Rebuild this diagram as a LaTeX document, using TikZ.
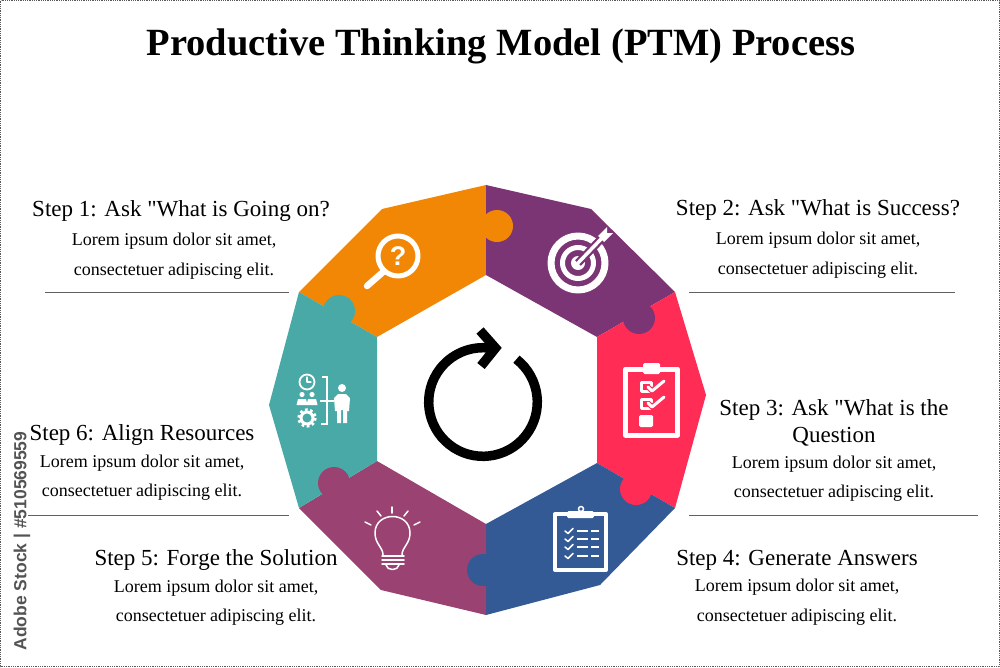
\documentclass[tikz,border=0pt]{standalone}
\usepackage{fontspec}
\setmainfont{Liberation Serif}[Ligatures=TeXOff]
\setsansfont{Liberation Sans}
\usetikzlibrary{positioning}
\definecolor{ptmorange}{HTML}{F28705}
\definecolor{ptmplum}{HTML}{7C3574}
\definecolor{ptmred}{HTML}{FF2C55}
\definecolor{ptmblue}{HTML}{345A96}
\definecolor{ptmwine}{HTML}{9A4272}
\definecolor{ptmteal}{HTML}{49A9A6}
\tikzset{
stephead/.style={
  font=\fontsize{23}{27}\selectfont,
  text centered,
  inner sep=0pt},
stepbody/.style={
  font=\fontsize{18}{29.5}\selectfont,
  align=center,
  inner sep=0pt},
rule/.style={draw, gray!75!black, line width=0.8pt},
iconline/.style={draw=white, line width=#1, line cap=round, line join=round},
iconline/.default=1.5pt
}
\begin{document}
\begin{tikzpicture}[x=1pt,y=-1pt]
    \useasboundingbox (0,0) rectangle (1000,667);
    \draw [densely dotted, gray!70!black, line width=0.8pt] (0.5,0.5) rectangle (999.5,666.5);
    \node [font=\fontsize{38.5}{44}\selectfont\bfseries, inner sep=0pt] (title) at (501,46) {Productive Thinking Model (PTM) Process};

    % puzzle ring
    \fill [ptmorange] (486,185) -- (382,209) -- (299,292) -- (377,337) -- (486,275) -- cycle;
    \fill [ptmplum] (486,185) -- (591,209) -- (675,292) -- (597,337) -- (486,275) -- cycle;
    \fill [ptmred] (675,292) -- (706,395) -- (675,508) -- (597,463) -- (597,337) -- cycle;
    \fill [ptmblue] (675,508) -- (600,585) -- (486,615) -- (486,524) -- (597,463) -- cycle;
    \fill [ptmwine] (486,615) -- (381,590) -- (299,508) -- (377,461) -- (486,524) -- cycle;
    \fill [ptmteal] (299,508) -- (269,405) -- (299,292) -- (377,337) -- (377,461) -- cycle;
    \fill [ptmorange] (497,226) circle (16);
    \fill [ptmplum] (639,318) circle (16);
    \fill [ptmred] (636,489) circle (16);
    \fill [ptmblue] (483,570) circle (16);
    \fill [ptmwine] (334,483) circle (16);
    \fill [ptmteal] (339,311) circle (16);

    % centre arrow
    \draw [line width=9.5pt] (483,402) ++(-52:54.3) arc (-52:283:54.3);
    \draw [line width=9.5pt, line join=miter] (480,330.5) -- (495.5,348) -- (481,366);

    % magnifier
    \draw [iconline=5pt] (398,256) circle (20);
    \draw [iconline=6.5pt] (383,272) -- (367,286);
    \node [white, font=\fontsize{27}{27}\selectfont\sffamily\bfseries, inner sep=0pt] (quest) at (398,256) {?};

    % target
    \draw [iconline=7pt] (578,263) circle (27);
    \draw [iconline=5pt] (578,263) circle (15.5);
    \fill [white] (578,263) circle (7);
    \draw [ptmplum, line width=8pt] (578,263) -- (606,234);
    \draw [iconline=3.5pt] (578,263) -- (603,237);
    \fill [white] (598,236) -- (607,227) -- (607,233) -- (613,233) -- (604,242) -- cycle;

    % checklist
    \draw [iconline=5pt] (625.5,369) rectangle (677.5,435);
    \fill [white, rounded corners=1.5pt] (643,363) rectangle (660,374);
    \draw [iconline=3pt] (641,382) rectangle (651,391);
    \draw [iconline=3pt] (641,399) rectangle (651,408);
    \fill [white, rounded corners=1.5pt] (639,415) rectangle (653,427);
    \draw [ptmred, line width=5pt] (648,387) -- (652,391) -- (662,381);
    \draw [ptmred, line width=5pt] (648,403) -- (652,407) -- (662,397);
    \draw [iconline=3pt] (648,387) -- (652,391) -- (664,381);
    \draw [iconline=3pt] (648,403) -- (652,407) -- (664,397);

    % clipboard
    \draw [iconline=4pt] (555,514) rectangle (606,570);
    \fill [white, rounded corners=1.5pt] (567,511) rectangle (594,518);
    \draw [draw=white, fill=ptmblue, line width=1.5pt] (581,509) circle (2.5);
    \foreach \rowy/\rowdash in {531/solid, 539/dashed, 547/solid, 556/dashed} {
      \draw [iconline=1.5pt] (565,\rowy) -- (568,\rowy+2.5) -- (573,\rowy-2.5);
      \draw [white, line width=1.5pt, \rowdash, dash pattern=on 11pt off 3pt] (577,\rowy) -- (599,\rowy);
    }

    % bulb
    \draw [iconline] (383,555) .. controls (383,547) and (375,544) .. (375,533) .. controls (375,511) and (410,511) .. (410,533) .. controls (410,544) and (402,547) .. (402,555);
    \draw [iconline] (382,556) -- (404,556);
    \draw [iconline] (382,560) -- (404,560);
    \draw [iconline] (382,564) -- (404,564);
    \draw [iconline] (386,565) .. controls (387,571) and (398,571) .. (399,565);
    \draw [iconline] (392,513) -- (392,507);
    \draw [iconline] (381,516) -- (377,511);
    \draw [iconline] (404,516) -- (408,511);
    \draw [iconline] (365,522) -- (371,525);
    \draw [iconline] (420,522) -- (414,525);

    % people
    \draw [iconline=1.8pt] (307,382) circle (7.5);
    \draw [iconline=1.2pt] (307,377) -- (307,382) -- (311,382);
    \foreach \mate in {302,312} {
      \fill [white] (\mate,394.5) circle (2.6);
      \fill [white] (\mate-5.5,405) -- (\mate-4,399) -- (\mate+4,399) -- (\mate+5.5,405) -- cycle;
    }
    \draw [iconline=3pt] (307,418) circle (6);
    \draw [white, line width=3pt, dash pattern=on 2.6pt off 2.6pt] (307,418) circle (8.2);
    \draw [white, line width=1.2pt] (322,377) -- (327,377) -- (327,424) -- (321,424);
    \draw [white, line width=1.2pt] (320,401) -- (334,401);
    \fill [white] (342,388) circle (4);
    \fill [white] (335,411) -- (334,398) -- (338,394) -- (346,394) -- (350,398) -- (349,411) -- (347,411) -- (347,423) -- (343,423) -- (343,410) -- (341,410) -- (341,423) -- (337,423) -- (337,411) -- cycle;

    % step labels
    \node [stephead] (step1) at (181,211) {Step 1: Ask "What is Going on?};
    \node [stepbody, below=11.5pt of step1.south, xshift=-7pt] (text1) {Lorem ipsum dolor sit amet,\\consectetuer adipiscing elit.};
    \node [stephead] (step2) at (818,210) {Step 2: Ask "What is Success?};
    \node [stepbody, below=11.5pt of step2.south] (text2) {Lorem ipsum dolor sit amet,\\consectetuer adipiscing elit.};
    \node [stephead, align=center] (step3) at (834,423) {Step 3: Ask "What is the\\Question};
    \node [stepbody, below=9pt of step3.south] (text3) {Lorem ipsum dolor sit amet,\\consectetuer adipiscing elit.};
    \node [stephead] (step4) at (797,560) {Step 4: Generate Answers};
    \node [stepbody, below=9pt of step4.south] (text4) {Lorem ipsum dolor sit amet,\\consectetuer adipiscing elit.};
    \node [stephead] (step5) at (216,560) {Step 5: Forge the Solution};
    \node [stepbody, below=9pt of step5.south] (text5) {Lorem ipsum dolor sit amet,\\consectetuer adipiscing elit.};
    \node [stephead] (step6) at (142,435) {Step 6: Align Resources};
    \node [stepbody, below=9pt of step6.south] (text6) {Lorem ipsum dolor sit amet,\\consectetuer adipiscing elit.};

    % rules
    \coordinate (rule1a) at (45,292);
    \coordinate (rule1b) at (289,292);
    \coordinate (rule2a) at (689,292);
    \coordinate (rule2b) at (955,292);
    \coordinate (rule3a) at (689,515);
    \coordinate (rule3b) at (978,515);
    \coordinate (rule4a) at (28,515);
    \coordinate (rule4b) at (289,515);
    \path [rule] (rule1a) -- (rule1b);
    \path [rule] (rule2a) -- (rule2b);
    \path [rule] (rule3a) -- (rule3b);
    \path [rule] (rule4a) -- (rule4b);

    \node [rotate=90, text=gray!65!black, font=\fontsize{17.5}{22}\selectfont\sffamily\bfseries, inner sep=0pt] (stock) at (22,541) {Adobe Stock | \#510569559};
\end{tikzpicture}
\end{document}
